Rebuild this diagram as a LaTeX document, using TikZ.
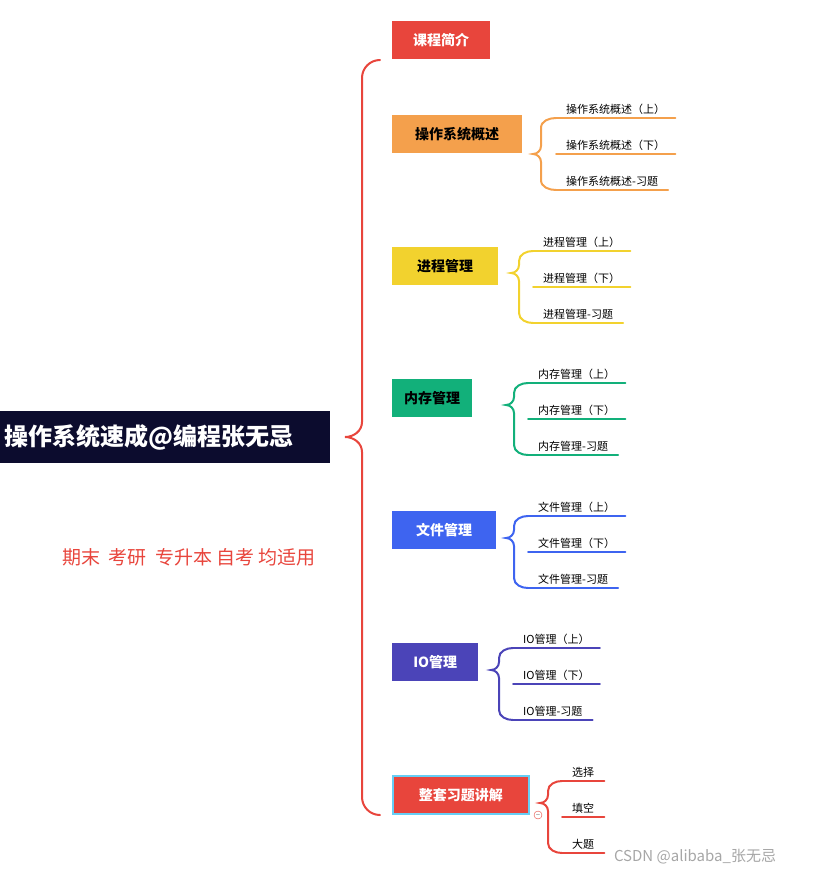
\documentclass[tikz,border=0pt]{standalone}
\usepackage{fontspec}
\setmainfont{Noto Sans CJK SC}
\usetikzlibrary{positioning}
\definecolor{cred}{HTML}{E8453C}
\definecolor{corange}{HTML}{F4A04C}
\definecolor{cyellow}{HTML}{F2D22E}
\definecolor{cgreen}{HTML}{12B07A}
\definecolor{cblue}{HTML}{3E64F0}
\definecolor{cindigo}{HTML}{4B44B8}
\definecolor{cnavy}{HTML}{0C0C2E}
\tikzset{
  branch/.style={fill=#1,minimum height=38pt,inner xsep=12pt,font=\fontsize{14}{16}\selectfont\bfseries,anchor=west},
  leaf/.style={anchor=south west,inner xsep=10pt,inner ysep=3pt,font=\fontsize{11}{13}\selectfont},
  uline/.style={draw=#1,line width=2pt,line cap=round},
  curly/.style={draw=#1,line width=2pt,line cap=round}
}
\begin{document}
\begin{tikzpicture}[x=1pt,y=-1pt]
  \useasboundingbox (0,0) rectangle (813,876);

  \node[fill=cnavy,text=white,minimum width=330pt,minimum height=52pt,font=\fontsize{24}{28}\selectfont\bfseries,align=left,text width=320pt,inner xsep=5pt] (root) at (165,437) {操作系统速成@编程张无忌};
  \node[text=cred,font=\fontsize{19}{22}\selectfont] (sub) at (189,557) {期末\ \ 考研\ \ 专升本 自考 均适用};

  % main brace
  \draw[cred,line width=2pt,line cap=round] (380,60) to[out=180,in=90] (362,78) -- (362,422)
     to[out=-90,in=0] (345,437) to[out=0,in=90] (362,452) -- (362,797) to[out=-90,in=180] (380,815);

  \node[branch=cred,text=white,minimum width=98pt] (intro) at (392,40) {课程简介};
  \node[branch=corange,minimum width=130pt] (os) at (392,134) {操作系统概述};
  \node[branch=cyellow,minimum width=106pt] (proc) at (392,266) {进程管理};
  \node[branch=cgreen,minimum width=76pt] (mem) at (392,398) {内存管理};
  \node[branch=cblue,text=white,minimum width=104pt] (file) at (392,530) {文件管理};
  \node[branch=cindigo,text=white,minimum width=86pt] (io) at (392,662) {IO管理};
  \node[branch=cred,text=white,draw=cyan!60,line width=1.5pt,minimum width=136pt] (ex) at (392,795) {整套习题讲解};

  % leaves: group / colour / x of leaves / x of brace / brace tip y / first underline y / labels
  \foreach \g/\c/\lx/\bx/\yc/\ya/\la/\lb/\lc in {
      os/corange/556/541/154/118/操作系统概述（上）/操作系统概述（下）/操作系统概述-习题,
      proc/cyellow/533/519/273/251/进程管理（上）/进程管理（下）/进程管理-习题,
      mem/cgreen/528/514/405/383/内存管理（上）/内存管理（下）/内存管理-习题,
      file/cblue/528/514/538/516/文件管理（上）/文件管理（下）/文件管理-习题,
      io/cindigo/513/499/670/648/IO管理（上）/IO管理（下）/IO管理-习题,
      ex/cred/562/548/803/781/选择/填空/大题}{
    \node[leaf] (\g a) at (\lx,\ya) {\la};
    \node[leaf] (\g b) at (\lx,\ya+36) {\lb};
    \node[leaf] (\g c) at (\lx,\ya+72) {\lc};
    \foreach \k in {a,b,c}
      \draw[uline=\c] (\g\k.south west) -- (\g\k.south east);
    \draw[curly=\c] (\g a.south west) to[out=180,in=90] (\bx,\ya+10) -- (\bx,\yc-8)
       to[out=-90,in=0] (\bx-8,\yc) to[out=0,in=90] (\bx,\yc+8) -- (\bx,\ya+62)
       to[out=-90,in=180] (\g c.south west);
  }
  \node[circle,draw=cred,fill=white,inner sep=0pt,minimum size=8pt,font=\tiny] (fold) at (538,815) {$-$};

  \node[text=gray!70,font=\fontsize{15}{17}\selectfont] (mark) at (695,857) {CSDN @alibaba\_张无忌};
\end{tikzpicture}
\end{document}
